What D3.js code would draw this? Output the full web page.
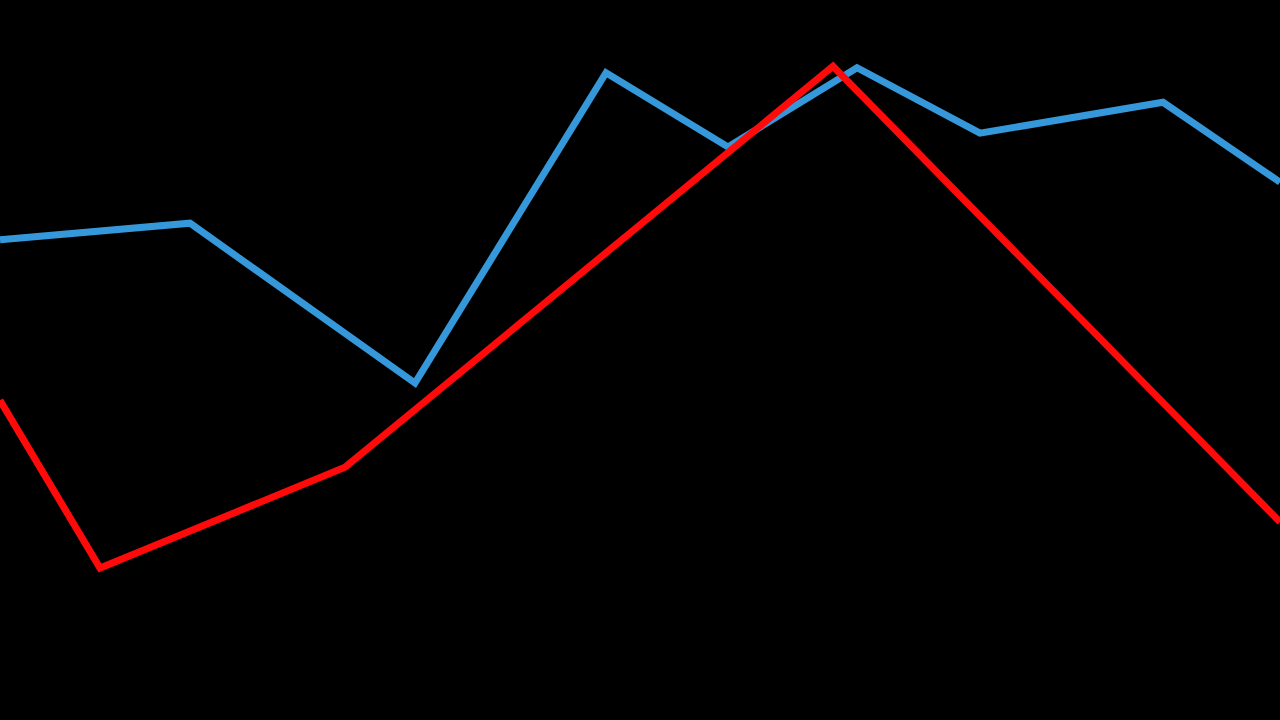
<!DOCTYPE html>
<html>
<head>
<meta charset="utf-8">
<script src="https://cdn.jsdelivr.net/npm/d3@7"></script>
<style>
  html, body { margin: 0; padding: 0; background: #000; overflow: hidden; }
  svg { display: block; }
</style>
</head>
<body>
<svg class="chart" width="1280" height="720"></svg>
<script>
// two series (x in arbitrary steps, y on a 0-100 scale)
var blueX = [0, 9.5, 20.75, 30.3, 36.4, 42.85, 49, 58.15, 64];
var blueY = [66.7, 69.0, 46.8, 89.9, 79.6, 90.6, 81.5, 85.8, 74.7];

var redX = [0, 5, 17.25, 41.65, 64];
var redY = [44.4, 21.1, 35.1, 90.8, 27.5];

var width = 1280;
var height = 720;

var x = d3.scaleLinear()
  .domain([0, 64])
  .range([0, width]);

var y = d3.scaleLinear()
  .domain([0, 100])
  .range([height, 0]);

var series = [
  { key: 'blue', color: '#3498db', values: d3.zip(blueX, blueY) },
  { key: 'red',  color: '#ff0a0a', values: d3.zip(redX, redY) }
];

var line = d3.line()
  .x(function(d) { return x(d[0]); })
  .y(function(d) { return y(d[1]); });

var svg = d3.select('svg.chart');

svg.append('rect')
  .attr('width', width)
  .attr('height', height)
  .attr('fill', '#000');

svg.selectAll('path.series')
  .data(series)
    .enter()
      .append('path')
        .attr('class', 'series')
        .attr('d', function(d) { return line(d.values); })
        .attr('fill', 'none')
        .attr('stroke', function(d) { return d.color; })
        .attr('stroke-width', 7)
        .attr('stroke-linejoin', 'miter');
</script>
</body>
</html>
